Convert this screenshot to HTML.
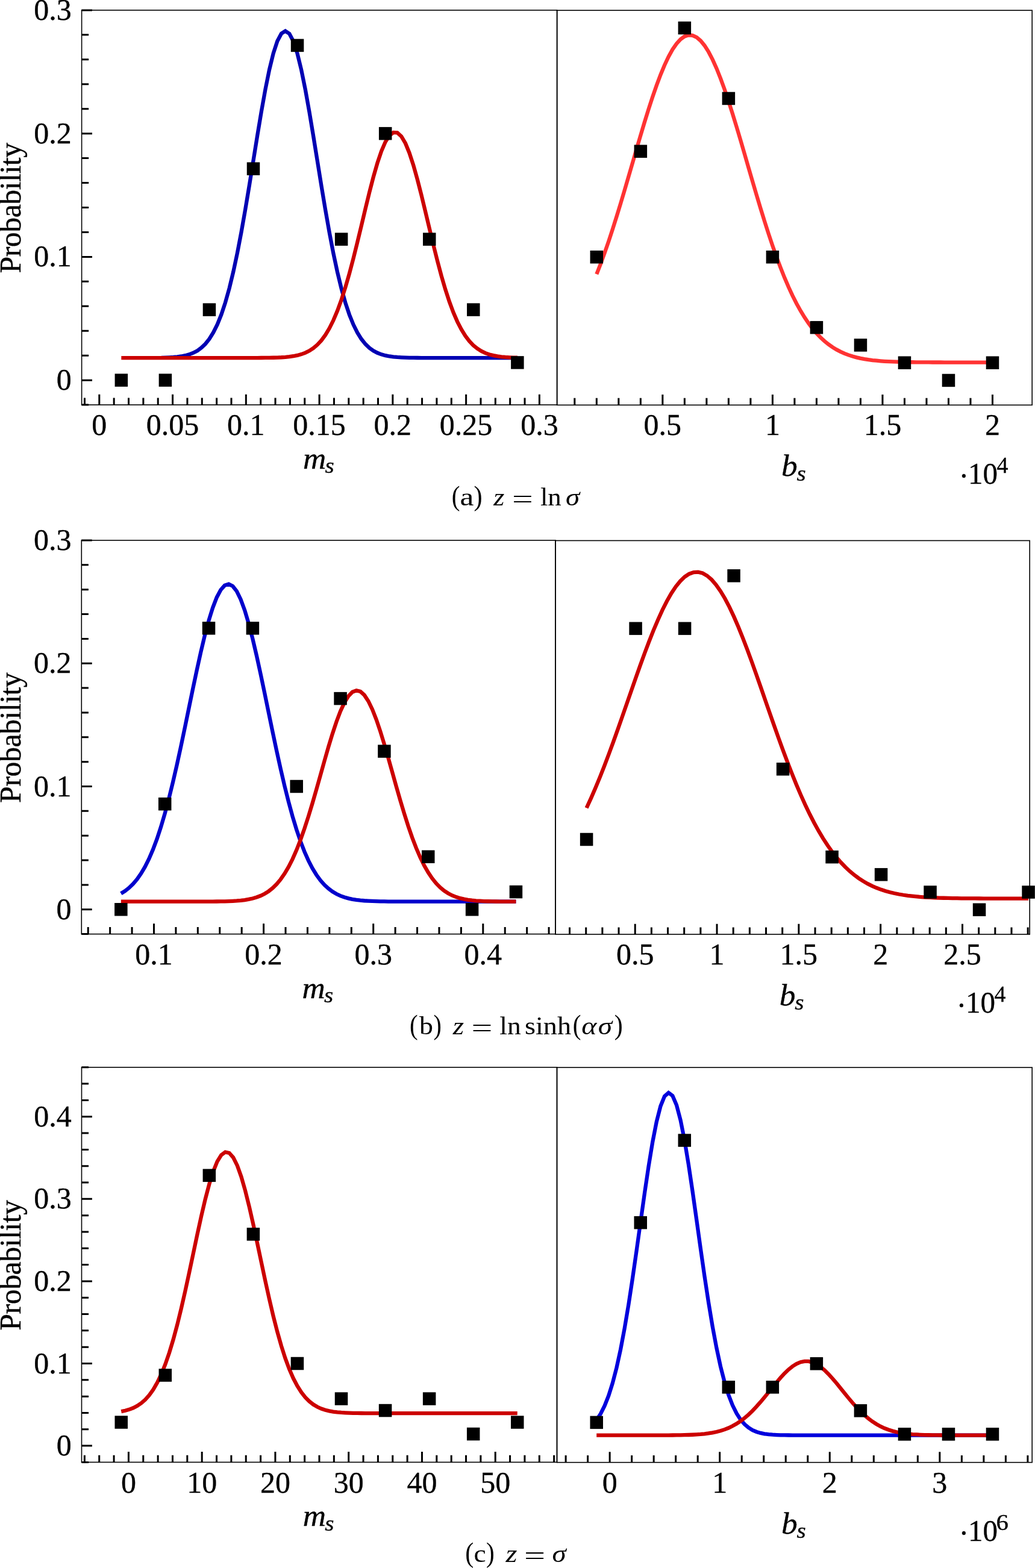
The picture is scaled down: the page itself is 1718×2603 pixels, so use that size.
<!DOCTYPE html>
<html lang="en"><head><meta charset="utf-8"><title>Probability distributions of m_s and b_s</title>
<style>html,body{margin:0;padding:0;background:#fff}body{width:1718px;height:2603px;overflow:hidden}svg{display:block}text{font-family:'Liberation Serif', serif;font-size:50px;fill:#000;stroke:#000;stroke-width:0.35px;stroke-linejoin:round}.it{font-style:italic}.cap text{font-size:41.5px;stroke:none}</style>
</head><body>
<svg width="1718" height="2603" viewBox="0 0 1718 2603" role="img" aria-label="Probability histograms of m_s and b_s with Gaussian fits">
<rect width="1718" height="2603" fill="#fff"/>
<g id="panel-a">
<polyline points="267.76,593.82 274.41,593.64 281.05,593.38 287.69,592.98 294.33,592.37 300.97,591.48 307.61,590.18 314.25,588.34 320.9,585.75 327.54,582.2 334.18,577.39 340.82,571 347.46,562.68 354.1,552.02 360.74,538.63 367.39,522.12 374.03,502.17 380.67,478.52 387.31,451.07 393.95,419.87 400.59,385.19 407.23,347.53 413.88,307.64 420.52,266.51 427.16,225.35 433.8,185.52 440.44,148.49 447.08,115.71 453.72,88.57 460.37,68.27 467.01,55.71 473.65,51.5 480.29,55.83 486.93,68.49 493.57,88.89 500.21,116.11 506.86,148.96 513.5,186.04 520.14,225.89 526.78,267.06 533.42,308.18 540.06,348.05 546.7,385.67 553.34,420.31 559.99,451.46 566.63,478.86 573.27,502.46 579.91,522.37 586.55,538.83 593.19,552.18 599.83,562.8 606.48,571.1 613.12,577.46 619.76,582.25 626.4,585.79 633.04,588.37 639.68,590.2 646.32,591.49 652.97,592.38 659.61,592.98 666.25,593.38 672.89,593.65 679.53,593.82 686.17,593.92 692.81,593.99 699.46,594.03 706.1,594.06 712.74,594.07 719.38,594.08 726.02,594.08 732.66,594.09 739.3,594.09 745.95,594.09 752.59,594.09 759.23,594.09 765.87,594.09 772.51,594.09 779.15,594.09 785.79,594.09 792.44,594.09 799.08,594.09 805.72,594.09 812.36,594.09 819,594.09 825.64,594.09 832.28,594.09 838.93,594.09 845.57,594.09 852.21,594.09 858.85,594.09" fill="none" stroke="#0000b3" stroke-width="6.3" stroke-linejoin="miter"/>
<polyline points="201.35,594.09 207.99,594.09 214.63,594.09 221.27,594.09 227.92,594.09 234.56,594.09 241.2,594.09 247.84,594.09 254.48,594.09 261.12,594.09 267.76,594.09 274.41,594.09 281.05,594.09 287.69,594.09 294.33,594.09 300.97,594.09 307.61,594.09 314.25,594.09 320.9,594.09 327.54,594.09 334.18,594.09 340.82,594.09 347.46,594.09 354.1,594.09 360.74,594.09 367.39,594.09 374.03,594.09 380.67,594.09 387.31,594.09 393.95,594.09 400.59,594.08 407.23,594.08 413.88,594.07 420.52,594.06 427.16,594.04 433.8,594.01 440.44,593.96 447.08,593.87 453.72,593.74 460.37,593.54 467.01,593.25 473.65,592.8 480.29,592.16 486.93,591.23 493.57,589.93 500.21,588.12 506.86,585.65 513.5,582.34 520.14,577.98 526.78,572.33 533.42,565.14 540.06,556.14 546.7,545.1 553.34,531.8 559.99,516.07 566.63,497.83 573.27,477.1 579.91,454.04 586.55,428.95 593.19,402.28 599.83,374.64 606.48,346.78 613.12,319.55 619.76,293.9 626.4,270.76 633.04,251.05 639.68,235.6 646.32,225.06 652.97,219.9 659.61,220.35 666.25,226.39 672.89,237.75 679.53,253.94 686.17,274.25 692.81,297.86 699.46,323.83 706.1,351.22 712.74,379.1 719.38,406.63 726.02,433.09 732.66,457.88 739.3,480.58 745.95,500.91 752.59,518.75 759.23,534.09 765.87,547.02 772.51,557.71 779.15,566.4 785.79,573.33 792.44,578.76 799.08,582.93 805.72,586.1 812.36,588.45 819,590.17 825.64,591.4 832.28,592.28 838.93,592.89 845.57,593.3 852.21,593.58 858.85,593.77" fill="none" stroke="#cc0000" stroke-width="6.3" stroke-linejoin="miter"/>
<g fill="#000"><rect x="190.6" y="620.4" width="21.5" height="21.5"/><rect x="263.66" y="620.4" width="21.5" height="21.5"/><rect x="336.71" y="503.4" width="21.5" height="21.5"/><rect x="409.77" y="269.4" width="21.5" height="21.5"/><rect x="482.82" y="64.65" width="21.5" height="21.5"/><rect x="555.88" y="386.4" width="21.5" height="21.5"/><rect x="628.93" y="210.9" width="21.5" height="21.5"/><rect x="701.99" y="386.4" width="21.5" height="21.5"/><rect x="775.04" y="503.4" width="21.5" height="21.5"/><rect x="848.1" y="591.15" width="21.5" height="21.5"/></g>
<polyline points="990.32,455.06 996.95,438.02 1003.59,419.88 1010.23,400.69 1016.87,380.55 1023.51,359.55 1030.14,337.84 1036.78,315.56 1043.42,292.89 1050.06,270.03 1056.7,247.19 1063.34,224.59 1069.97,202.49 1076.61,181.12 1083.25,160.74 1089.89,141.6 1096.53,123.93 1103.16,107.97 1109.8,93.93 1116.44,82.01 1123.08,72.36 1129.72,65.12 1136.35,60.41 1142.99,58.28 1149.63,58.77 1156.27,61.86 1162.91,67.52 1169.54,75.66 1176.18,86.17 1182.82,98.9 1189.46,113.68 1196.1,130.3 1202.73,148.54 1209.37,168.17 1216.01,188.95 1222.65,210.62 1229.29,232.93 1235.92,255.65 1242.56,278.52 1249.2,301.34 1255.84,323.88 1262.48,345.97 1269.11,367.43 1275.75,388.12 1282.39,407.92 1289.03,426.73 1295.67,444.47 1302.3,461.09 1308.94,476.56 1315.58,490.86 1322.22,503.99 1328.86,515.98 1335.5,526.86 1342.13,536.67 1348.77,545.46 1355.41,553.29 1362.05,560.23 1368.69,566.34 1375.32,571.7 1381.96,576.36 1388.6,580.39 1395.24,583.87 1401.88,586.84 1408.51,589.38 1415.15,591.52 1421.79,593.33 1428.43,594.85 1435.07,596.11 1441.7,597.15 1448.34,598.02 1454.98,598.72 1461.62,599.3 1468.26,599.77 1474.89,600.15 1481.53,600.45 1488.17,600.69 1494.81,600.88 1501.45,601.04 1508.08,601.16 1514.72,601.25 1521.36,601.32 1528,601.38 1534.64,601.42 1541.27,601.46 1547.91,601.48 1554.55,601.5 1561.19,601.51 1567.83,601.53 1574.46,601.53 1581.1,601.54 1587.74,601.54 1594.38,601.55 1601.02,601.55 1607.66,601.55 1614.29,601.55 1620.93,601.55 1627.57,601.55 1634.21,601.56 1640.85,601.56 1647.48,601.56" fill="none" stroke="#ff3333" stroke-width="6.3" stroke-linejoin="miter"/>
<g fill="#000"><rect x="979.57" y="415.95" width="21.5" height="21.5"/><rect x="1052.59" y="240.45" width="21.5" height="21.5"/><rect x="1125.6" y="35.7" width="21.5" height="21.5"/><rect x="1198.62" y="152.7" width="21.5" height="21.5"/><rect x="1271.64" y="415.95" width="21.5" height="21.5"/><rect x="1344.66" y="532.95" width="21.5" height="21.5"/><rect x="1417.68" y="562.2" width="21.5" height="21.5"/><rect x="1490.7" y="591.45" width="21.5" height="21.5"/><rect x="1563.71" y="620.7" width="21.5" height="21.5"/><rect x="1636.73" y="591.45" width="21.5" height="21.5"/></g>
<path d="M140.47 672.1V660.5M164.82 672.1V660.5M189.17 672.1V660.5M213.53 672.1V660.5M237.88 672.1V660.5M262.23 672.1V660.5M286.58 672.1V660.5M310.93 672.1V660.5M335.29 672.1V660.5M359.64 672.1V660.5M383.99 672.1V660.5M408.34 672.1V660.5M432.69 672.1V660.5M457.04 672.1V660.5M481.4 672.1V660.5M505.75 672.1V660.5M530.1 672.1V660.5M554.45 672.1V660.5M578.8 672.1V660.5M603.16 672.1V660.5M627.51 672.1V660.5M651.86 672.1V660.5M676.21 672.1V660.5M700.56 672.1V660.5M724.91 672.1V660.5M749.27 672.1V660.5M773.62 672.1V660.5M797.97 672.1V660.5M822.32 672.1V660.5M846.67 672.1V660.5M871.03 672.1V660.5M895.38 672.1V660.5M164.82 672.1V654.7M286.58 672.1V654.7M408.34 672.1V654.7M530.1 672.1V654.7M651.86 672.1V654.7M773.62 672.1V654.7M895.38 672.1V654.7" stroke="#000" stroke-width="3" fill="none"/><text x="164.82" y="722.4" text-anchor="middle">0</text><text x="286.58" y="722.4" text-anchor="middle">0.05</text><text x="408.34" y="722.4" text-anchor="middle">0.1</text><text x="530.1" y="722.4" text-anchor="middle">0.15</text><text x="651.86" y="722.4" text-anchor="middle">0.2</text><text x="773.62" y="722.4" text-anchor="middle">0.25</text><text x="895.38" y="722.4" text-anchor="middle">0.3</text>
<path d="M953.81 672.4V660.8M990.32 672.4V660.8M1026.83 672.4V660.8M1063.34 672.4V660.8M1099.84 672.4V660.8M1136.35 672.4V660.8M1172.86 672.4V660.8M1209.37 672.4V660.8M1245.88 672.4V660.8M1282.39 672.4V660.8M1318.9 672.4V660.8M1355.41 672.4V660.8M1391.92 672.4V660.8M1428.43 672.4V660.8M1464.94 672.4V660.8M1501.45 672.4V660.8M1537.96 672.4V660.8M1574.46 672.4V660.8M1610.97 672.4V660.8M1647.48 672.4V660.8M1099.84 672.4V655M1282.39 672.4V655M1464.94 672.4V655M1647.48 672.4V655" stroke="#000" stroke-width="3" fill="none"/><text x="1099.84" y="722.4" text-anchor="middle">0.5</text><text x="1282.39" y="722.4" text-anchor="middle">1</text><text x="1464.94" y="722.4" text-anchor="middle">1.5</text><text x="1647.48" y="722.4" text-anchor="middle">2</text>
<path d="M135.6 672.1H147.2M135.6 631.15H147.2M135.6 590.2H147.2M135.6 549.25H147.2M135.6 508.3H147.2M135.6 467.35H147.2M135.6 426.4H147.2M135.6 385.45H147.2M135.6 344.5H147.2M135.6 303.55H147.2M135.6 262.6H147.2M135.6 221.65H147.2M135.6 180.7H147.2M135.6 139.75H147.2M135.6 98.8H147.2M135.6 57.85H147.2M135.6 16.9H147.2M135.6 631.15H153M135.6 426.4H153M135.6 221.65H153M135.6 16.9H153" stroke="#000" stroke-width="3" fill="none"/><text x="118.8" y="647.15" text-anchor="end">0</text><text x="118.8" y="442.4" text-anchor="end">0.1</text><text x="118.8" y="237.65" text-anchor="end">0.2</text><text x="118.8" y="32.9" text-anchor="end">0.3</text>
<rect x="135.6" y="16.9" width="789" height="655.2" fill="none" stroke="#000" stroke-width="1.6"/>
<rect x="924.6" y="17.2" width="788.6" height="655.2" fill="none" stroke="#000" stroke-width="1.6"/>
<text transform="translate(33.9 345.5) rotate(-90)" text-anchor="middle" style="font-size:50px;letter-spacing:-0.55px">Probability</text>
<text transform="translate(502.94 778) scale(1.0605 1.0000)" class="it" style="font-size:50px">m</text>
<text transform="translate(539.46 785.4) scale(1.0857 1.0000)" class="it" style="font-size:36px">s</text>
<text transform="translate(1296.96 790.3) scale(1.0698 1.0000)" class="it" style="font-size:50px">b</text>
<text transform="translate(1322.56 797.8) scale(1.0857 1.0000)" class="it" style="font-size:36px">s</text>
<text transform="translate(1591.55 807.17) scale(1.0087 1.0087)" style="font-size:50px">·</text>
<text transform="translate(1607.08 802.9) scale(0.9816 1.0000)" style="font-size:50px">10</text>
<text transform="translate(1654.43 784.9) scale(1.0261 1.0000)" style="font-size:37px">4</text>
<g class="cap">
<text transform="translate(749.76 839.29) scale(0.9953 1.0987)">(</text>
<text transform="translate(763.44 838.8) scale(1.2431 1.0000)">a</text>
<text transform="translate(786.62 839.29) scale(1.0233 1.0987)">)</text>
<text transform="translate(819.36 838.8) scale(1.1188 1.0000)" class="it">z</text>
<text transform="translate(850.03 842.26) scale(1.4872 1.0190)">=</text>
<text transform="translate(896.89 838.8) scale(1.0829 1.0000)">ln</text>
<text transform="translate(939.08 838.8) scale(1.1366 1.0000)" class="it">σ</text>
</g>
</g>
<g id="panel-b">
<polyline points="200.86,1483.25 207.48,1479.12 214.1,1473.97 220.72,1467.59 227.35,1459.79 233.97,1450.38 240.59,1439.16 247.21,1425.93 253.83,1410.55 260.46,1392.87 267.08,1372.84 273.7,1350.42 280.32,1325.69 286.95,1298.8 293.57,1270 300.19,1239.62 306.81,1208.11 313.43,1176.01 320.06,1143.94 326.68,1112.58 333.3,1082.65 339.92,1054.89 346.54,1030.03 353.17,1008.75 359.79,991.65 366.41,979.23 373.03,971.85 379.65,969.74 386.28,972.97 392.9,981.43 399.52,994.87 406.14,1012.89 412.76,1034.98 419.39,1060.5 426.01,1088.78 432.63,1119.07 439.25,1150.64 445.87,1182.77 452.5,1214.8 459.12,1246.11 465.74,1276.19 472.36,1304.62 478.98,1331.07 485.61,1355.32 492.23,1377.24 498.85,1396.78 505.47,1413.97 512.09,1428.89 518.72,1441.68 525.34,1452.5 531.96,1461.56 538.58,1469.04 545.21,1475.14 551.83,1480.07 558.45,1484 565.07,1487.1 571.69,1489.51 578.32,1491.37 584.94,1492.79 591.56,1493.85 598.18,1494.65 604.8,1495.24 611.43,1495.66 618.05,1495.97 624.67,1496.19 631.29,1496.34 637.91,1496.45 644.54,1496.53 651.16,1496.58 657.78,1496.61 664.4,1496.64 671.02,1496.65 677.65,1496.66 684.27,1496.67 690.89,1496.67 697.51,1496.67 704.13,1496.68 710.76,1496.68 717.38,1496.68 724,1496.68 730.62,1496.68 737.24,1496.68 743.87,1496.68 750.49,1496.68 757.11,1496.68 763.73,1496.68 770.35,1496.68 776.98,1496.68 783.6,1496.68 790.22,1496.68 796.84,1496.68 803.47,1496.68 810.09,1496.68 816.71,1496.68 823.33,1496.68 829.95,1496.68 836.58,1496.68 843.2,1496.68 849.82,1496.68 856.44,1496.68" fill="none" stroke="#0000cc" stroke-width="6.3" stroke-linejoin="miter"/>
<polyline points="200.86,1496.68 207.48,1496.68 214.1,1496.68 220.72,1496.68 227.35,1496.68 233.97,1496.68 240.59,1496.68 247.21,1496.68 253.83,1496.68 260.46,1496.68 267.08,1496.68 273.7,1496.68 280.32,1496.68 286.95,1496.68 293.57,1496.68 300.19,1496.68 306.81,1496.67 313.43,1496.67 320.06,1496.67 326.68,1496.66 333.3,1496.65 339.92,1496.63 346.54,1496.61 353.17,1496.57 359.79,1496.51 366.41,1496.41 373.03,1496.28 379.65,1496.08 386.28,1495.79 392.9,1495.38 399.52,1494.81 406.14,1494.02 412.76,1492.94 419.39,1491.48 426.01,1489.55 432.63,1487.01 439.25,1483.73 445.87,1479.56 452.5,1474.32 459.12,1467.83 465.74,1459.92 472.36,1450.42 478.98,1439.17 485.61,1426.07 492.23,1411.05 498.85,1394.11 505.47,1375.33 512.09,1354.87 518.72,1333.01 525.34,1310.09 531.96,1286.58 538.58,1263.01 545.21,1239.99 551.83,1218.17 558.45,1198.21 565.07,1180.75 571.69,1166.37 578.32,1155.59 584.94,1148.79 591.56,1146.21 598.18,1147.95 604.8,1153.94 611.43,1163.97 618.05,1177.68 624.67,1194.59 631.29,1214.11 637.91,1235.62 644.54,1258.46 651.16,1281.97 657.78,1305.53 664.4,1328.61 671.02,1350.71 677.65,1371.47 684.27,1390.59 690.89,1407.9 697.51,1423.3 704.13,1436.77 710.76,1448.37 717.38,1458.2 724,1466.41 730.62,1473.16 737.24,1478.63 743.87,1483 750.49,1486.43 757.11,1489.1 763.73,1491.14 770.35,1492.69 776.98,1493.83 783.6,1494.68 790.22,1495.29 796.84,1495.72 803.47,1496.03 810.09,1496.24 816.71,1496.39 823.33,1496.49 829.95,1496.56 836.58,1496.6 843.2,1496.63 849.82,1496.65 856.44,1496.66" fill="none" stroke="#cc0000" stroke-width="6.3" stroke-linejoin="miter"/>
<g fill="#000"><rect x="190.11" y="1499" width="21.5" height="21.5"/><rect x="262.95" y="1323.93" width="21.5" height="21.5"/><rect x="335.79" y="1032.14" width="21.5" height="21.5"/><rect x="408.64" y="1032.14" width="21.5" height="21.5"/><rect x="481.48" y="1294.75" width="21.5" height="21.5"/><rect x="554.32" y="1148.86" width="21.5" height="21.5"/><rect x="627.16" y="1236.39" width="21.5" height="21.5"/><rect x="700.01" y="1411.46" width="21.5" height="21.5"/><rect x="772.85" y="1499" width="21.5" height="21.5"/><rect x="845.69" y="1469.82" width="21.5" height="21.5"/></g>
<polyline points="973.6,1341.3 981.01,1325.17 988.42,1308.09 995.83,1290.11 1003.23,1271.3 1010.64,1251.75 1018.05,1231.56 1025.46,1210.86 1032.87,1189.79 1040.28,1168.5 1047.69,1147.16 1055.09,1125.96 1062.5,1105.09 1069.91,1084.74 1077.32,1065.13 1084.73,1046.45 1092.14,1028.91 1099.55,1012.7 1106.96,998.01 1114.36,985.01 1121.77,973.85 1129.18,964.67 1136.59,957.59 1144,952.7 1151.41,950.04 1158.82,949.66 1166.22,951.56 1173.63,955.73 1181.04,962.09 1188.45,970.58 1195.86,981.1 1203.27,993.5 1210.68,1007.65 1218.08,1023.38 1225.49,1040.5 1232.9,1058.82 1240.31,1078.15 1247.72,1098.28 1255.13,1119 1262.54,1140.11 1269.94,1161.42 1277.35,1182.75 1284.76,1203.91 1292.17,1224.75 1299.58,1245.13 1306.99,1264.9 1314.4,1283.97 1321.81,1302.23 1329.21,1319.62 1336.62,1336.06 1344.03,1351.53 1351.44,1365.99 1358.85,1379.43 1366.26,1391.85 1373.67,1403.27 1381.07,1413.71 1388.48,1423.21 1395.89,1431.8 1403.3,1439.54 1410.71,1446.46 1418.12,1452.63 1425.53,1458.09 1432.93,1462.92 1440.34,1467.15 1447.75,1470.84 1455.16,1474.05 1462.57,1476.83 1469.98,1479.22 1477.39,1481.27 1484.8,1483.02 1492.2,1484.5 1499.61,1485.75 1507.02,1486.8 1514.43,1487.68 1521.84,1488.41 1529.25,1489.02 1536.66,1489.52 1544.06,1489.93 1551.47,1490.27 1558.88,1490.54 1566.29,1490.76 1573.7,1490.94 1581.11,1491.08 1588.52,1491.2 1595.92,1491.29 1603.33,1491.36 1610.74,1491.42 1618.15,1491.46 1625.56,1491.5 1632.97,1491.53 1640.38,1491.55 1647.78,1491.56 1655.19,1491.57 1662.6,1491.58 1670.01,1491.59 1677.42,1491.6 1684.83,1491.6 1692.24,1491.6 1699.65,1491.61 1707.05,1491.61" fill="none" stroke="#cc0000" stroke-width="6.3" stroke-linejoin="miter"/>
<g fill="#000"><rect x="962.85" y="1382.74" width="21.5" height="21.5"/><rect x="1044.34" y="1032.59" width="21.5" height="21.5"/><rect x="1125.84" y="1032.59" width="21.5" height="21.5"/><rect x="1207.33" y="945.06" width="21.5" height="21.5"/><rect x="1288.83" y="1266.02" width="21.5" height="21.5"/><rect x="1370.32" y="1411.91" width="21.5" height="21.5"/><rect x="1451.82" y="1441.09" width="21.5" height="21.5"/><rect x="1533.31" y="1470.27" width="21.5" height="21.5"/><rect x="1614.81" y="1499.45" width="21.5" height="21.5"/><rect x="1696.3" y="1470.27" width="21.5" height="21.5"/></g>
<path d="M146.23 1550.6V1539M182.65 1550.6V1539M219.07 1550.6V1539M255.49 1550.6V1539M291.91 1550.6V1539M328.33 1550.6V1539M364.75 1550.6V1539M401.18 1550.6V1539M437.6 1550.6V1539M474.02 1550.6V1539M510.44 1550.6V1539M546.86 1550.6V1539M583.28 1550.6V1539M619.7 1550.6V1539M656.12 1550.6V1539M692.55 1550.6V1539M728.97 1550.6V1539M765.39 1550.6V1539M801.81 1550.6V1539M838.23 1550.6V1539M874.65 1550.6V1539M911.07 1550.6V1539M255.49 1550.6V1533.2M437.6 1550.6V1533.2M619.7 1550.6V1533.2M801.81 1550.6V1533.2" stroke="#000" stroke-width="3" fill="none"/><text x="255.49" y="1600.9" text-anchor="middle">0.1</text><text x="437.6" y="1600.9" text-anchor="middle">0.2</text><text x="619.7" y="1600.9" text-anchor="middle">0.3</text><text x="801.81" y="1600.9" text-anchor="middle">0.4</text>
<path d="M945.54 1551.05V1539.45M972.7 1551.05V1539.45M999.87 1551.05V1539.45M1027.03 1551.05V1539.45M1054.2 1551.05V1539.45M1081.36 1551.05V1539.45M1108.53 1551.05V1539.45M1135.69 1551.05V1539.45M1162.86 1551.05V1539.45M1190.02 1551.05V1539.45M1217.19 1551.05V1539.45M1244.35 1551.05V1539.45M1271.52 1551.05V1539.45M1298.68 1551.05V1539.45M1325.85 1551.05V1539.45M1353.01 1551.05V1539.45M1380.18 1551.05V1539.45M1407.34 1551.05V1539.45M1434.51 1551.05V1539.45M1461.67 1551.05V1539.45M1488.84 1551.05V1539.45M1516 1551.05V1539.45M1543.17 1551.05V1539.45M1570.33 1551.05V1539.45M1597.5 1551.05V1539.45M1624.66 1551.05V1539.45M1651.83 1551.05V1539.45M1678.99 1551.05V1539.45M1706.16 1551.05V1539.45M1054.2 1551.05V1533.65M1190.02 1551.05V1533.65M1325.85 1551.05V1533.65M1461.67 1551.05V1533.65M1597.5 1551.05V1533.65" stroke="#000" stroke-width="3" fill="none"/><text x="1054.2" y="1600.9" text-anchor="middle">0.5</text><text x="1190.02" y="1600.9" text-anchor="middle">1</text><text x="1325.85" y="1600.9" text-anchor="middle">1.5</text><text x="1461.67" y="1600.9" text-anchor="middle">2</text><text x="1597.5" y="1600.9" text-anchor="middle">2.5</text>
<path d="M135.3 1550.6H146.9M135.3 1509.75H146.9M135.3 1468.9H146.9M135.3 1428.05H146.9M135.3 1387.2H146.9M135.3 1346.35H146.9M135.3 1305.5H146.9M135.3 1264.65H146.9M135.3 1223.8H146.9M135.3 1182.95H146.9M135.3 1142.1H146.9M135.3 1101.25H146.9M135.3 1060.4H146.9M135.3 1019.55H146.9M135.3 978.7H146.9M135.3 937.85H146.9M135.3 897H146.9M135.3 1509.75H152.7M135.3 1305.5H152.7M135.3 1101.25H152.7M135.3 897H152.7" stroke="#000" stroke-width="3" fill="none"/><text x="118.5" y="1525.75" text-anchor="end">0</text><text x="118.5" y="1321.5" text-anchor="end">0.1</text><text x="118.5" y="1117.25" text-anchor="end">0.2</text><text x="118.5" y="913" text-anchor="end">0.3</text>
<rect x="135.3" y="897" width="786.7" height="653.6" fill="none" stroke="#000" stroke-width="1.6"/>
<rect x="922" y="897.45" width="787.2" height="653.6" fill="none" stroke="#000" stroke-width="1.6"/>
<text transform="translate(33.9 1224.8) rotate(-90)" text-anchor="middle" style="font-size:50px;letter-spacing:-0.55px">Probability</text>
<text transform="translate(501.49 1656.5) scale(1.0605 1.0000)" class="it" style="font-size:50px">m</text>
<text transform="translate(538.01 1663.9) scale(1.0857 1.0000)" class="it" style="font-size:36px">s</text>
<text transform="translate(1293.66 1668.8) scale(1.0698 1.0000)" class="it" style="font-size:50px">b</text>
<text transform="translate(1319.26 1676.3) scale(1.0857 1.0000)" class="it" style="font-size:36px">s</text>
<text transform="translate(1587.55 1685.67) scale(1.0087 1.0087)" style="font-size:50px">·</text>
<text transform="translate(1603.08 1681.4) scale(0.9816 1.0000)" style="font-size:50px">10</text>
<text transform="translate(1650.43 1663.4) scale(1.0261 1.0000)" style="font-size:37px">4</text>
<g class="cap">
<text transform="translate(679.97 1717.29) scale(0.9860 1.0987)">(</text>
<text transform="translate(695.9 1716.8) scale(1.1065 1.0000)">b</text>
<text transform="translate(719.59 1717.29) scale(0.9674 1.0987)">)</text>
<text transform="translate(751.87 1716.8) scale(1.1375 1.0000)" class="it">z</text>
<text transform="translate(782.42 1720.26) scale(1.4923 1.0190)">=</text>
<text transform="translate(829.28 1716.8) scale(1.0992 1.0000)">ln</text>
<text transform="translate(871.05 1716.8) scale(1.1134 1.0000)">sinh</text>
<text transform="translate(950.66 1717.29) scale(0.9953 1.0987)">(</text>
<text transform="translate(965.25 1716.8) scale(1.1576 1.0000)" class="it">α</text>
<text transform="translate(992.67 1716.8) scale(1.1415 1.0000)" class="it">σ</text>
<text transform="translate(1019.63 1717.29) scale(1.0140 1.0987)">)</text>
</g>
</g>
<g id="panel-c">
<polyline points="201.25,2343.09 207.89,2341.72 214.53,2339.84 221.17,2337.28 227.82,2333.85 234.46,2329.34 241.1,2323.49 247.74,2316.05 254.38,2306.74 261.02,2295.28 267.66,2281.41 274.31,2264.95 280.95,2245.75 287.59,2223.78 294.23,2199.13 300.87,2172.03 307.51,2142.89 314.15,2112.24 320.8,2080.82 327.44,2049.47 334.08,2019.15 340.72,1990.87 347.36,1965.65 354,1944.46 360.64,1928.14 367.29,1917.36 373.93,1912.57 380.57,1913.99 387.21,1921.56 393.85,1934.94 400.49,1953.58 407.13,1976.72 413.78,2003.46 420.42,2032.8 427.06,2063.72 433.7,2095.21 440.34,2126.38 446.98,2156.42 453.62,2184.69 460.27,2210.71 466.91,2234.15 473.55,2254.86 480.19,2272.8 486.83,2288.06 493.47,2300.79 500.11,2311.24 506.76,2319.67 513.4,2326.34 520.04,2331.55 526.68,2335.54 533.32,2338.54 539.96,2340.77 546.6,2342.4 553.24,2343.58 559.89,2344.4 566.53,2344.98 573.17,2345.38 579.81,2345.64 586.45,2345.82 593.09,2345.94 599.73,2346.01 606.38,2346.06 613.02,2346.09 619.66,2346.11 626.3,2346.12 632.94,2346.12 639.58,2346.13 646.22,2346.13 652.87,2346.13 659.51,2346.13 666.15,2346.13 672.79,2346.13 679.43,2346.13 686.07,2346.13 692.71,2346.13 699.36,2346.13 706,2346.13 712.64,2346.13 719.28,2346.13 725.92,2346.13 732.56,2346.13 739.2,2346.13 745.85,2346.13 752.49,2346.13 759.13,2346.13 765.77,2346.13 772.41,2346.13 779.05,2346.13 785.69,2346.13 792.34,2346.13 798.98,2346.13 805.62,2346.13 812.26,2346.13 818.9,2346.13 825.54,2346.13 832.18,2346.13 838.83,2346.13 845.47,2346.13 852.11,2346.13 858.75,2346.13" fill="none" stroke="#cc0000" stroke-width="6.3" stroke-linejoin="miter"/>
<g fill="#000"><rect x="190.5" y="2350.31" width="21.5" height="21.5"/><rect x="263.56" y="2272.26" width="21.5" height="21.5"/><rect x="336.61" y="1940.56" width="21.5" height="21.5"/><rect x="409.67" y="2038.12" width="21.5" height="21.5"/><rect x="482.72" y="2252.75" width="21.5" height="21.5"/><rect x="555.78" y="2311.29" width="21.5" height="21.5"/><rect x="628.83" y="2330.8" width="21.5" height="21.5"/><rect x="701.89" y="2311.29" width="21.5" height="21.5"/><rect x="774.94" y="2369.82" width="21.5" height="21.5"/><rect x="848" y="2350.31" width="21.5" height="21.5"/></g>
<polyline points="990.23,2357.29 996.86,2347.19 1003.5,2334.01 1010.14,2317.2 1016.78,2296.23 1023.42,2270.7 1030.06,2240.38 1036.7,2205.27 1043.34,2165.68 1049.97,2122.28 1056.61,2076.11 1063.25,2028.58 1069.89,1981.43 1076.53,1936.61 1083.17,1896.17 1089.81,1862.1 1096.45,1836.21 1103.09,1819.88 1109.72,1814.04 1116.36,1819.02 1123,1834.53 1129.64,1859.71 1136.28,1893.18 1142.92,1933.18 1149.56,1977.73 1156.2,2024.77 1162.84,2072.33 1169.47,2118.67 1176.11,2162.34 1182.75,2202.26 1189.39,2237.75 1196.03,2268.46 1202.67,2294.36 1209.31,2315.68 1215.95,2332.81 1222.59,2346.26 1229.22,2356.58 1235.86,2364.32 1242.5,2370.01 1249.14,2374.09 1255.78,2376.97 1262.42,2378.94 1269.06,2380.27 1275.7,2381.15 1282.34,2381.72 1288.97,2382.08 1295.61,2382.3 1302.25,2382.44 1308.89,2382.52 1315.53,2382.57 1322.17,2382.59 1328.81,2382.61 1335.45,2382.62 1342.09,2382.62 1348.72,2382.63 1355.36,2382.63 1362,2382.63 1368.64,2382.63 1375.28,2382.63 1381.92,2382.63 1388.56,2382.63 1395.2,2382.63 1401.84,2382.63 1408.47,2382.63 1415.11,2382.63 1421.75,2382.63 1428.39,2382.63 1435.03,2382.63 1441.67,2382.63 1448.31,2382.63 1454.95,2382.63 1461.59,2382.63 1468.22,2382.63 1474.86,2382.63 1481.5,2382.63 1488.14,2382.63 1494.78,2382.63 1501.42,2382.63 1508.06,2382.63 1514.7,2382.63 1521.34,2382.63 1527.97,2382.63 1534.61,2382.63 1541.25,2382.63 1547.89,2382.63 1554.53,2382.63 1561.17,2382.63 1567.81,2382.63 1574.45,2382.63 1581.09,2382.63 1587.72,2382.63 1594.36,2382.63 1601,2382.63 1607.64,2382.63 1614.28,2382.63 1620.92,2382.63 1627.56,2382.63 1634.2,2382.63 1640.84,2382.63 1647.48,2382.63" fill="none" stroke="#0000dd" stroke-width="6.3" stroke-linejoin="miter"/>
<polyline points="990.23,2382.63 996.86,2382.63 1003.5,2382.63 1010.14,2382.63 1016.78,2382.63 1023.42,2382.63 1030.06,2382.63 1036.7,2382.63 1043.34,2382.63 1049.97,2382.63 1056.61,2382.63 1063.25,2382.62 1069.89,2382.62 1076.53,2382.62 1083.17,2382.61 1089.81,2382.6 1096.45,2382.59 1103.09,2382.57 1109.72,2382.54 1116.36,2382.5 1123,2382.43 1129.64,2382.34 1136.28,2382.21 1142.92,2382.02 1149.56,2381.77 1156.2,2381.41 1162.84,2380.94 1169.47,2380.31 1176.11,2379.47 1182.75,2378.4 1189.39,2377.02 1196.03,2375.29 1202.67,2373.14 1209.31,2370.5 1215.95,2367.33 1222.59,2363.56 1229.22,2359.16 1235.86,2354.09 1242.5,2348.35 1249.14,2341.95 1255.78,2334.95 1262.42,2327.44 1269.06,2319.51 1275.7,2311.33 1282.34,2303.08 1288.97,2294.95 1295.61,2287.17 1302.25,2279.97 1308.89,2273.58 1315.53,2268.2 1322.17,2264.03 1328.81,2261.21 1335.45,2259.83 1342.09,2259.96 1348.72,2261.59 1355.36,2264.65 1362,2269.04 1368.64,2274.6 1375.28,2281.15 1381.92,2288.46 1388.56,2296.31 1395.2,2304.48 1401.84,2312.73 1408.47,2320.88 1415.11,2328.75 1421.75,2336.18 1428.39,2343.08 1435.03,2349.37 1441.67,2355 1448.31,2359.95 1454.95,2364.25 1461.59,2367.91 1468.22,2370.99 1474.86,2373.53 1481.5,2375.61 1488.14,2377.28 1494.78,2378.6 1501.42,2379.63 1508.06,2380.43 1514.7,2381.03 1521.34,2381.48 1527.97,2381.82 1534.61,2382.06 1541.25,2382.24 1547.89,2382.36 1554.53,2382.45 1561.17,2382.51 1567.81,2382.55 1574.45,2382.58 1581.09,2382.59 1587.72,2382.61 1594.36,2382.61 1601,2382.62 1607.64,2382.62 1614.28,2382.62 1620.92,2382.63 1627.56,2382.63 1634.2,2382.63 1640.84,2382.63 1647.48,2382.63" fill="none" stroke="#cc0000" stroke-width="6.3" stroke-linejoin="miter"/>
<g fill="#000"><rect x="979.48" y="2350.61" width="21.5" height="21.5"/><rect x="1052.5" y="2018.91" width="21.5" height="21.5"/><rect x="1125.53" y="1882.32" width="21.5" height="21.5"/><rect x="1198.56" y="2292.07" width="21.5" height="21.5"/><rect x="1271.59" y="2292.07" width="21.5" height="21.5"/><rect x="1344.61" y="2253.05" width="21.5" height="21.5"/><rect x="1417.64" y="2331.1" width="21.5" height="21.5"/><rect x="1490.67" y="2370.12" width="21.5" height="21.5"/><rect x="1563.7" y="2370.12" width="21.5" height="21.5"/><rect x="1636.72" y="2370.12" width="21.5" height="21.5"/></g>
<path d="M140.37 2427.4V2415.8M164.72 2427.4V2415.8M189.07 2427.4V2415.8M213.43 2427.4V2415.8M237.78 2427.4V2415.8M262.13 2427.4V2415.8M286.48 2427.4V2415.8M310.83 2427.4V2415.8M335.19 2427.4V2415.8M359.54 2427.4V2415.8M383.89 2427.4V2415.8M408.24 2427.4V2415.8M432.59 2427.4V2415.8M456.94 2427.4V2415.8M481.3 2427.4V2415.8M505.65 2427.4V2415.8M530 2427.4V2415.8M554.35 2427.4V2415.8M578.7 2427.4V2415.8M603.06 2427.4V2415.8M627.41 2427.4V2415.8M651.76 2427.4V2415.8M676.11 2427.4V2415.8M700.46 2427.4V2415.8M724.81 2427.4V2415.8M749.17 2427.4V2415.8M773.52 2427.4V2415.8M797.87 2427.4V2415.8M822.22 2427.4V2415.8M846.57 2427.4V2415.8M870.93 2427.4V2415.8M895.28 2427.4V2415.8M919.63 2427.4V2415.8M213.43 2427.4V2410M335.19 2427.4V2410M456.94 2427.4V2410M578.7 2427.4V2410M700.46 2427.4V2410M822.22 2427.4V2410" stroke="#000" stroke-width="3" fill="none"/><text x="213.43" y="2477.7" text-anchor="middle">0</text><text x="335.19" y="2477.7" text-anchor="middle">10</text><text x="456.94" y="2477.7" text-anchor="middle">20</text><text x="578.7" y="2477.7" text-anchor="middle">30</text><text x="700.46" y="2477.7" text-anchor="middle">40</text><text x="822.22" y="2477.7" text-anchor="middle">50</text>
<path d="M939.11 2427.7V2416.1M975.62 2427.7V2416.1M1012.13 2427.7V2416.1M1048.65 2427.7V2416.1M1085.16 2427.7V2416.1M1121.67 2427.7V2416.1M1158.19 2427.7V2416.1M1194.7 2427.7V2416.1M1231.22 2427.7V2416.1M1267.73 2427.7V2416.1M1304.24 2427.7V2416.1M1340.76 2427.7V2416.1M1377.27 2427.7V2416.1M1413.79 2427.7V2416.1M1450.3 2427.7V2416.1M1486.81 2427.7V2416.1M1523.33 2427.7V2416.1M1559.84 2427.7V2416.1M1596.36 2427.7V2416.1M1632.87 2427.7V2416.1M1669.38 2427.7V2416.1M1705.9 2427.7V2416.1M1012.13 2427.7V2410.3M1194.7 2427.7V2410.3M1377.27 2427.7V2410.3M1559.84 2427.7V2410.3" stroke="#000" stroke-width="3" fill="none"/><text x="1012.13" y="2477.7" text-anchor="middle">0</text><text x="1194.7" y="2477.7" text-anchor="middle">1</text><text x="1377.27" y="2477.7" text-anchor="middle">2</text><text x="1559.84" y="2477.7" text-anchor="middle">3</text>
<path d="M135.5 2427.4H147.1M135.5 2400.08H147.1M135.5 2372.77H147.1M135.5 2345.45H147.1M135.5 2318.13H147.1M135.5 2290.82H147.1M135.5 2263.5H147.1M135.5 2236.18H147.1M135.5 2208.87H147.1M135.5 2181.55H147.1M135.5 2154.23H147.1M135.5 2126.92H147.1M135.5 2099.6H147.1M135.5 2072.28H147.1M135.5 2044.97H147.1M135.5 2017.65H147.1M135.5 1990.33H147.1M135.5 1963.02H147.1M135.5 1935.7H147.1M135.5 1908.38H147.1M135.5 1881.07H147.1M135.5 1853.75H147.1M135.5 1826.43H147.1M135.5 1799.12H147.1M135.5 1771.8H147.1M135.5 2400.08H152.9M135.5 2263.5H152.9M135.5 2126.92H152.9M135.5 1990.33H152.9M135.5 1853.75H152.9" stroke="#000" stroke-width="3" fill="none"/><text x="118.7" y="2416.08" text-anchor="end">0</text><text x="118.7" y="2279.5" text-anchor="end">0.1</text><text x="118.7" y="2142.92" text-anchor="end">0.2</text><text x="118.7" y="2006.33" text-anchor="end">0.3</text><text x="118.7" y="1869.75" text-anchor="end">0.4</text>
<rect x="135.5" y="1771.8" width="789" height="655.6" fill="none" stroke="#000" stroke-width="1.6"/>
<rect x="924.5" y="1772.1" width="788.7" height="655.6" fill="none" stroke="#000" stroke-width="1.6"/>
<text transform="translate(33.9 2100.6) rotate(-90)" text-anchor="middle" style="font-size:50px;letter-spacing:-0.55px">Probability</text>
<text transform="translate(502.84 2533.3) scale(1.0605 1.0000)" class="it" style="font-size:50px">m</text>
<text transform="translate(539.36 2540.7) scale(1.0857 1.0000)" class="it" style="font-size:36px">s</text>
<text transform="translate(1296.91 2545.6) scale(1.0698 1.0000)" class="it" style="font-size:50px">b</text>
<text transform="translate(1322.51 2553.1) scale(1.0857 1.0000)" class="it" style="font-size:36px">s</text>
<text transform="translate(1591.55 2562.47) scale(1.0087 1.0087)" style="font-size:50px">·</text>
<text transform="translate(1607.08 2558.2) scale(0.9816 1.0000)" style="font-size:50px">10</text>
<text transform="translate(1653.54 2540.2) scale(1.1063 1.0000)" style="font-size:37px">6</text>
<g class="cap">
<text transform="translate(772.23 2593.49) scale(1.0140 1.0987)">(</text>
<text transform="translate(786.46 2593) scale(1.0921 1.0000)">c</text>
<text transform="translate(806.96 2593.49) scale(0.9953 1.0987)">)</text>
<text transform="translate(839.39 2593) scale(1.1750 1.0000)" class="it">z</text>
<text transform="translate(869.89 2596.46) scale(1.5026 1.0190)">=</text>
<text transform="translate(916.49 2593) scale(1.1317 1.0000)" class="it">σ</text>
</g>
</g>
</svg></body></html>
